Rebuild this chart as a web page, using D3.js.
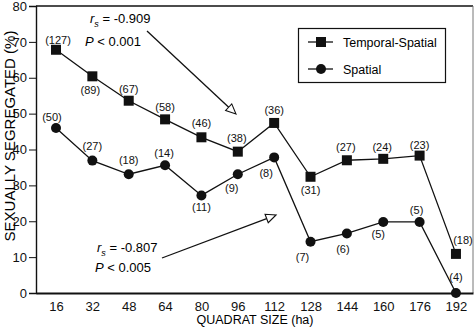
<!DOCTYPE html>
<html>
<head>
<meta charset="utf-8">
<script src="https://cdn.jsdelivr.net/npm/d3@7"></script>
<style>
  body { margin: 0; background: #fff; }
  svg { font-family: "Liberation Sans", Arial, Helvetica, sans-serif; }
  .tick text { font-size: 13px; fill: #111; }
  .ptlabel { font-size: 11px; fill: #111; }
</style>
</head>
<body>
<div id="chart"></div>
<script>
// quadrat sizes (ha)
var quadratSizes = [16, 32, 48, 64, 80, 96, 112, 128, 144, 160, 176, 192];
// percent sexually segregated
var temporalSpatial = [67.8, 60.4, 53.6, 48.4, 43.4, 39.4, 47.4, 32.4, 37.0, 37.4, 38.3, 10.9];
var spatial = [46.0, 36.9, 33.1, 35.6, 27.2, 33.1, 37.8, 14.3, 16.6, 19.8, 19.8, 0];
// sample sizes shown in brackets
var temporalSpatialN = [127, 89, 67, 58, 46, 38, 36, 31, 27, 24, 23, 18];
var spatialN = [50, 27, 18, 14, 11, 9, 8, 7, 6, 5, 5, 4];
var yTicks = [0, 10, 20, 30, 40, 50, 60, 70, 80];
var seriesNames = ["Temporal-Spatial", "Spatial"];

// label placement (offsets from marker, px)
var tsLabelPos = [[2,-10],[-2,14],[0,-12],[0,-12],[0,-14],[-1,-14],[0,-13],[0,13],[-1,-13],[-1,-12],[0,-11],[7,-14]];
var spLabelPos = [[-4,-11],[0,-15],[0,-14],[-1,-12],[0,12],[-6,14],[-8,16],[-8,15],[-4,16],[-5,12],[-3,-12],[0,-16]];

var W = 474, H = 329;
var margin = {top: 6, right: 1, bottom: 36, left: 36};
var width = W - margin.left - margin.right,
    height = H - margin.top - margin.bottom;

var svg = d3.select("#chart").append("svg")
    .attr("width", W)
    .attr("height", H);

var main = svg.append("g")
    .attr("transform", "translate(" + margin.left + "," + margin.top + ")");

var x = d3.scaleLinear().domain([7.2, 199.5]).range([0, width]);
var y = d3.scaleLinear().domain([0, 80]).range([height, 0]);

// top and right frame
main.append("line")
    .attr("x1", 0).attr("x2", width).attr("y1", 0).attr("y2", 0)
    .attr("stroke", "#111").attr("stroke-width", 1.6);
main.append("line")
    .attr("x1", width).attr("x2", width).attr("y1", 0).attr("y2", height)
    .attr("stroke", "#777").attr("stroke-width", 1);

// y axis
var yAxis = d3.axisLeft(y).tickValues(yTicks).tickSize(7).tickPadding(2);
var gy = main.append("g").call(yAxis);
gy.select(".domain").attr("stroke", "#111").attr("stroke-width", 1.4);
gy.selectAll(".tick line").attr("stroke", "#111");

// x axis
var xAxis = d3.axisBottom(x).tickValues(quadratSizes).tickSize(0).tickPadding(9);
var gx = main.append("g").attr("transform", "translate(0," + height + ")").call(xAxis);
gx.select(".domain").attr("stroke", "#111").attr("stroke-width", 2);

// axis titles
svg.append("text")
    .attr("x", 255).attr("y", 324)
    .attr("text-anchor", "middle")
    .style("font-size", "12.5px")
    .text("QUADRAT SIZE (ha)");

svg.append("text")
    .attr("transform", "translate(15,136) rotate(-90)")
    .attr("text-anchor", "middle")
    .style("font-size", "15px")
    .text("SEXUALLY SEGREGATED (%)");

var line = d3.line()
    .x(function(d) { return x(d.q); })
    .y(function(d) { return y(d.v); });

function makeSeries(vals, ns, pos) {
  return quadratSizes.map(function(q, i) {
    return {q: q, v: vals[i], n: ns[i], dx: pos[i][0], dy: pos[i][1]};
  });
}

var tsData = makeSeries(temporalSpatial, temporalSpatialN, tsLabelPos);
var spData = makeSeries(spatial, spatialN, spLabelPos);

[tsData, spData].forEach(function(data) {
  main.append("path")
      .datum(data)
      .attr("fill", "none")
      .attr("stroke", "#111")
      .attr("stroke-width", 1.3)
      .attr("d", line);
});

main.selectAll("rect.ts")
    .data(tsData)
    .enter().append("rect")
    .attr("class", "ts")
    .attr("x", function(d) { return x(d.q) - 5; })
    .attr("y", function(d) { return y(d.v) - 5; })
    .attr("width", 10).attr("height", 10)
    .attr("fill", "#111");

main.selectAll("circle.sp")
    .data(spData)
    .enter().append("circle")
    .attr("class", "sp")
    .attr("cx", function(d) { return x(d.q); })
    .attr("cy", function(d) { return y(d.v); })
    .attr("r", 5)
    .attr("fill", "#111");

[tsData, spData].forEach(function(data) {
  main.selectAll(null)
      .data(data)
      .enter().append("text")
      .attr("class", "ptlabel")
      .attr("x", function(d) { return x(d.q) + d.dx; })
      .attr("y", function(d) { return y(d.v) + d.dy; })
      .attr("text-anchor", "middle")
      .attr("dominant-baseline", "central")
      .text(function(d) { return "(" + d.n + ")"; });
});

// legend
var legend = svg.append("g");
legend.append("rect")
    .attr("x", 298.5).attr("y", 28.5).attr("width", 147).attr("height", 54)
    .attr("fill", "#fff").attr("stroke", "#111").attr("stroke-width", 1.2);
seriesNames.forEach(function(name, i) {
  var ly = 42 + i * 27;
  legend.append("line")
      .attr("x1", 308).attr("x2", 333).attr("y1", ly).attr("y2", ly)
      .attr("stroke", "#111").attr("stroke-width", 1.3);
  if (i === 0) {
    legend.append("rect").attr("x", 316).attr("y", ly - 5).attr("width", 10).attr("height", 10).attr("fill", "#111");
  } else {
    legend.append("circle").attr("cx", 321).attr("cy", ly).attr("r", 5).attr("fill", "#111");
  }
  legend.append("text")
      .attr("x", 343).attr("y", ly + 4.5)
      .style("font-size", "12.5px")
      .text(name);
});

// correlation annotations
var stats = [
  {r: "-0.909", p: "0.001", tx: 90, ty: 23, px: 85, py: 46, from: [147, 31], to: [236, 114]},
  {r: "-0.807", p: "0.005", tx: 97, ty: 252, px: 95, py: 272, from: [162, 258], to: [276, 215]}
];

stats.forEach(function(s) {
  var t = svg.append("text").attr("x", s.tx).attr("y", s.ty).style("font-size", "13px");
  t.append("tspan").style("font-style", "italic").text("r");
  t.append("tspan").attr("dy", 4).style("font-size", "9px").style("font-style", "italic").text("s");
  t.append("tspan").attr("dy", -4).text(" = " + s.r);

  var p = svg.append("text").attr("x", s.px).attr("y", s.py).style("font-size", "13px");
  p.append("tspan").style("font-style", "italic").text("P");
  p.append("tspan").text(" < " + s.p);

  var dx = s.to[0] - s.from[0], dy = s.to[1] - s.from[1];
  var len = Math.sqrt(dx * dx + dy * dy);
  var ux = dx / len, uy = dy / len;
  var headLen = 10, headW = 4.5;
  var bx = s.to[0] - ux * headLen, by = s.to[1] - uy * headLen;
  svg.append("line")
      .attr("x1", s.from[0]).attr("y1", s.from[1])
      .attr("x2", bx).attr("y2", by)
      .attr("stroke", "#111").attr("stroke-width", 1.3);
  svg.append("path")
      .attr("d", "M" + s.to[0] + "," + s.to[1] +
                 "L" + (bx - uy * headW) + "," + (by + ux * headW) +
                 "L" + (bx + uy * headW) + "," + (by - ux * headW) + "Z")
      .attr("fill", "#fff").attr("stroke", "#111").attr("stroke-width", 1.1);
});
</script>
</body>
</html>
